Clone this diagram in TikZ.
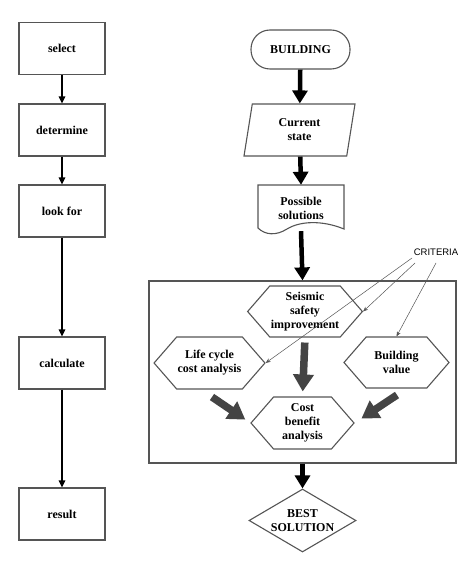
\documentclass[tikz,border=0pt]{standalone}
\usepackage{fontspec}
\setmainfont{Liberation Serif}
\setsansfont{Liberation Sans}
\usetikzlibrary{arrows.meta,shapes.geometric,shapes.symbols}
\definecolor{edge}{HTML}{555555}
\definecolor{grayarrow}{HTML}{444444}
\begin{document}
\begin{tikzpicture}[x=1pt,y=-1pt,
  txt/.style={font=\fontsize{12}{14}\selectfont\bfseries, align=center, inner sep=1pt},
  leftbox/.style={txt, draw=edge, line width=1.2pt, minimum width=86, minimum height=52},
  hexa/.style={txt, draw=edge, line width=1.1pt, shape=signal, signal to=east and west, signal from=nowhere, signal pointer angle=98},
  thin/.style={line width=1.3pt, -{Triangle[width=6.5pt,length=7pt]}},
  thick/.style={line width=4.5pt, -{Triangle[width=15pt,length=13pt]}},
  grayarr/.style={draw=grayarrow, line width=7.5pt, -{Triangle[width=20pt,length=17pt]}},
  crit/.style={draw=edge, line width=0.5pt, -{Stealth[width=4pt,length=5pt]}}
]
\useasboundingbox (0,0) rectangle (474,585);
\fill[white] (0,0) rectangle (474,585);

% left column
\node[leftbox] (sel) at (62,48.5) {select};
\node[leftbox] (det) at (62,130) {determine};
\node[leftbox] (look) at (62,211) {look for};
\node[leftbox] (calc) at (62,363) {calculate};
\node[leftbox] (res) at (62,514) {result};
\draw[thin] (sel) -- (det);
\draw[thin] (det) -- (look);
\draw[thin] (look) -- (calc);
\draw[thin] (calc) -- (res);

% right column
\node[txt, draw=edge, line width=1.1pt, rounded corners=19pt, minimum width=99, minimum height=39] (bld) at (300.5,49.5) {BUILDING};
\node[txt, draw=edge, line width=1.1pt, trapezium, trapezium left angle=71, trapezium right angle=109, trapezium stretches body, minimum width=111, minimum height=52] (cur) at (299.5,130) {Current\\state};
\node[txt, minimum width=86, minimum height=46] (ps) at (301,208) {Possible\\solutions};
\draw[edge, line width=1.1pt] (258,185) -- (344,185) -- (344,229)
  .. controls (322,220) and (300,221) .. (287,229)
  .. controls (276,236) and (265,235) .. (258,228) -- cycle;

\node[draw=edge, line width=1.2pt, minimum width=307, minimum height=182, inner sep=0pt] (frame) at (302.5,372) {};

\node[hexa, minimum width=112, minimum height=51] (seis) at (305,311.5) {Seismic\\safety\\improvement};
\node[hexa, minimum width=109, minimum height=52] (lc) at (209.5,363) {Life cycle\\cost analysis};
\node[hexa, minimum width=105, minimum height=51] (bv) at (396.5,362.5) {Building\\value};
\node[hexa, minimum width=103, minimum height=52] (cb) at (302.5,423) {Cost\\benefit\\analysis};

\node[txt, draw=edge, line width=1.1pt, diamond, aspect=1.7, minimum width=107, minimum height=63, inner sep=0pt] (best) at (302.5,520.5) {BEST\\SOLUTION};

\node[font=\sffamily\fontsize{9.5}{10}\selectfont, inner sep=1pt] (crit) at (436,252) {CRITERIA};

% main arrows
\draw[thick] (bld) -- (cur);
\draw[thick] (cur) -- (ps.north);
\draw[thick] (ps.south) -- (frame.north);
\draw[thick] (frame.south) -- (best.north);

% gray arrows
\coordinate (lcA) at (212,397);
\coordinate (bvA) at (397,395);
\draw[grayarr, shorten <=5pt, shorten >=5pt] (seis.south) -- (cb.north);
\draw[grayarr, shorten >=6pt] (lcA) -- (cb.west);
\draw[grayarr, shorten >=8pt] (bvA) -- (cb.east);

% criteria lines
\coordinate (c1) at (412,258);
\coordinate (c2) at (415,263);
\coordinate (c3) at (436,263);
\draw[crit] (c1) -- (lc.east);
\draw[crit] (c2) -- (seis.east);
\draw[crit] (c3) -- (bv.north);
\end{tikzpicture}
\end{document}
